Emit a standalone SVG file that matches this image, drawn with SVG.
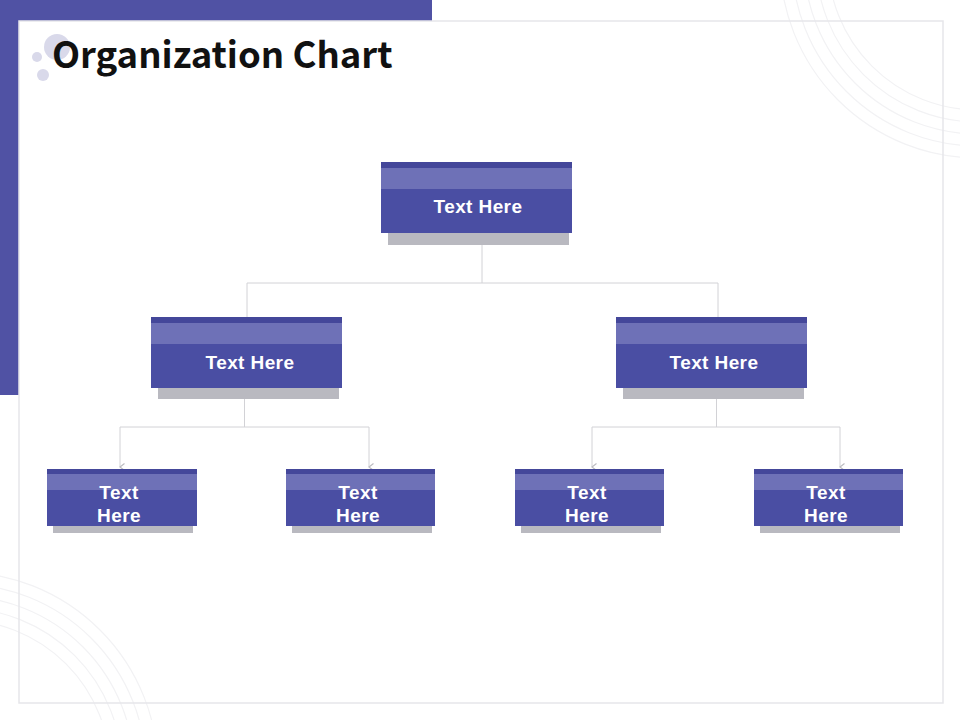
<svg xmlns="http://www.w3.org/2000/svg" width="960" height="720" viewBox="0 0 960 720">
  <defs>
    <style>
      .band { fill: #5052a4; }
      .panel { fill: none; stroke: #e6e6ea; stroke-width: 1.5; }
      .arc { fill: none; stroke: #f2f2f4; stroke-width: 1.2; }
      .dot { fill: #d9d9ea; }
      .shadow { fill: #b9b9c0; }
      .box { fill: #4a4ea3; }
      .top { fill: #44479a; }
      .hl { fill: #6e71b7; }
      .lbl { font-family: "Liberation Sans", Arial, sans-serif; font-weight: bold; font-size: 19px; letter-spacing: 0.4px; fill: #ffffff; text-anchor: middle; }
      .title { font-family: "Noto Sans CJK JP", "Noto Sans", sans-serif; font-weight: bold; font-size: 36.5px; fill: #111111; }
      .conn { fill: none; stroke: #d2d2d6; stroke-width: 1; }
    </style>
    <marker id="arr" markerWidth="10" markerHeight="10" refX="5" refY="7" orient="auto" markerUnits="userSpaceOnUse" viewBox="0 0 10 10">
      <path d="M1.5,2.5 L5,7 L8.5,2.5" fill="none" stroke="#bdbdc2" stroke-width="1.2"/>
    </marker>
  </defs>

  <rect x="0" y="0" width="960" height="720" fill="#ffffff"/>
  <g id="background">
    <rect class="band" x="0" y="0" width="432" height="21"/>
    <rect class="band" x="0" y="0" width="19" height="395"/>
    <g class="arc">
      <circle cx="978" cy="-40" r="150"/>
      <circle cx="978" cy="-40" r="162"/>
      <circle cx="978" cy="-40" r="174"/>
      <circle cx="978" cy="-40" r="186"/>
      <circle cx="978" cy="-40" r="198"/>
      <circle cx="-40" cy="770" r="150"/>
      <circle cx="-40" cy="770" r="162"/>
      <circle cx="-40" cy="770" r="174"/>
      <circle cx="-40" cy="770" r="186"/>
      <circle cx="-40" cy="770" r="198"/>
    </g>
    <rect class="panel" x="19" y="21" width="924" height="682"/>
    <circle class="dot" cx="57" cy="47" r="13"/>
    <circle class="dot" cx="37" cy="57" r="5"/>
    <circle class="dot" cx="43" cy="75" r="6"/>
    <text class="title" x="52" y="68">Organization Chart</text>
  </g>

  <g id="connectors">
    <path class="conn" d="M482,245 V283 M247,283 H718 M247,283 V317 M718,283 V317"/>
    <path class="conn" d="M244.5,399 V427 M120,427 H369"/>
    <path class="conn" marker-end="url(#arr)" d="M120,427 V467"/>
    <path class="conn" marker-end="url(#arr)" d="M369,427 V467"/>
    <path class="conn" d="M716.5,399 V427 M592,427 H840"/>
    <path class="conn" marker-end="url(#arr)" d="M592,427 V467"/>
    <path class="conn" marker-end="url(#arr)" d="M840,427 V467"/>
  </g>

  <g id="node-root">
    <rect class="shadow" x="388" y="233" width="181" height="12"/>
    <rect class="box" x="381" y="162" width="191" height="71"/>
    <rect class="top" x="381" y="162" width="191" height="6"/>
    <rect class="hl" x="381" y="168" width="191" height="21"/>
    <text class="lbl" x="478" y="213">Text Here</text>
  </g>

  <g id="node-mid-left">
    <rect class="shadow" x="158" y="388" width="181" height="11"/>
    <rect class="box" x="151" y="317" width="191" height="71"/>
    <rect class="top" x="151" y="317" width="191" height="6"/>
    <rect class="hl" x="151" y="323" width="191" height="21"/>
    <text class="lbl" x="250" y="369">Text Here</text>
  </g>

  <g id="node-mid-right">
    <rect class="shadow" x="623" y="388" width="181" height="11"/>
    <rect class="box" x="616" y="317" width="191" height="71"/>
    <rect class="top" x="616" y="317" width="191" height="6"/>
    <rect class="hl" x="616" y="323" width="191" height="21"/>
    <text class="lbl" x="714" y="369">Text Here</text>
  </g>

  <g id="leaf-1">
    <rect class="shadow" x="53" y="525" width="140" height="8"/>
    <rect class="box" x="47" y="469" width="150" height="57"/>
    <rect class="top" x="47" y="469" width="150" height="5"/>
    <rect class="hl" x="47" y="474" width="150" height="16"/>
    <text class="lbl" x="119" y="499">Text</text>
    <text class="lbl" x="119" y="522">Here</text>
  </g>

  <g id="leaf-2">
    <rect class="shadow" x="292" y="525" width="140" height="8"/>
    <rect class="box" x="286" y="469" width="149" height="57"/>
    <rect class="top" x="286" y="469" width="149" height="5"/>
    <rect class="hl" x="286" y="474" width="149" height="16"/>
    <text class="lbl" x="358" y="499">Text</text>
    <text class="lbl" x="358" y="522">Here</text>
  </g>

  <g id="leaf-3">
    <rect class="shadow" x="521" y="525" width="140" height="8"/>
    <rect class="box" x="515" y="469" width="149" height="57"/>
    <rect class="top" x="515" y="469" width="149" height="5"/>
    <rect class="hl" x="515" y="474" width="149" height="16"/>
    <text class="lbl" x="587" y="499">Text</text>
    <text class="lbl" x="587" y="522">Here</text>
  </g>

  <g id="leaf-4">
    <rect class="shadow" x="760" y="525" width="140" height="8"/>
    <rect class="box" x="754" y="469" width="149" height="57"/>
    <rect class="top" x="754" y="469" width="149" height="5"/>
    <rect class="hl" x="754" y="474" width="149" height="16"/>
    <text class="lbl" x="826" y="499">Text</text>
    <text class="lbl" x="826" y="522">Here</text>
  </g>
</svg>
